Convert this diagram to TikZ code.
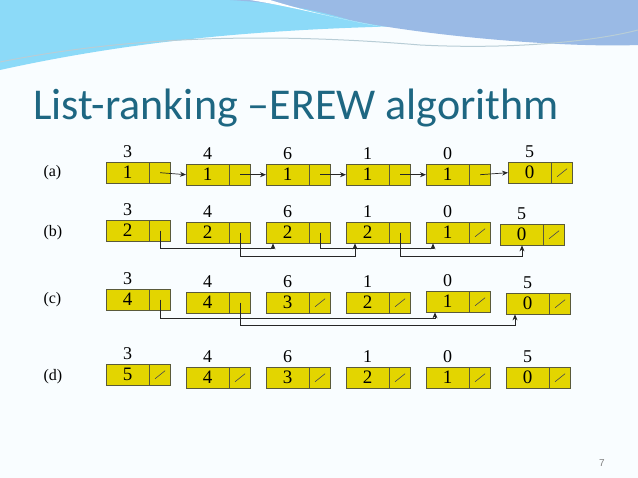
\documentclass[tikz,border=0pt]{standalone}
\usepackage{fontspec}
\setmainfont{Liberation Serif}
\newfontfamily\titlefont{Carlito}
\newfontfamily\sansf{Liberation Sans}
\usetikzlibrary{calc,arrows.meta}
\definecolor{titleblue}{HTML}{1E6782}
\definecolor{boxyellow}{HTML}{E3D500}
\definecolor{boxline}{HTML}{5A5A3A}
\tikzset{
  vcell/.style={draw=boxline,fill=boxyellow,minimum width=43pt,minimum height=21pt,inner sep=0pt,anchor=north west,font=\fontsize{19}{19}\selectfont},
  pcell/.style={draw=boxline,fill=boxyellow,minimum width=21pt,minimum height=21pt,inner sep=0pt,anchor=north west},
  lab/.style={font=\fontsize{18}{18}\selectfont,anchor=base},
  rowlab/.style={font=\fontsize{16}{16}\selectfont,anchor=west},
  arr/.style={draw=black!85,line width=0.7pt,-{Stealth[length=6pt,width=5pt]}},
  nullline/.style={draw=black!70,line width=0.6pt}
}
\newcommand\lbox[5]{%
  \node[vcell] (#1v) at (#2,#3) {#4};
  \node[pcell] (#1p) at (#1v.north east) {};
  \node[lab] (#1l) at ($(#1v.north)+(0,-4)$) {#5};
}
\newcommand\nul[1]{\draw[nullline] ($(#1p.center)+(-5,4)$) -- ($(#1p.center)+(5,-4)$);}
\begin{document}
\begin{tikzpicture}[x=1pt,y=-1pt]
\useasboundingbox (0,0) rectangle (638,478);
\fill[white!94!cyan!40] (0,0) rectangle (638,478);
% header waves
\fill[cyan!45!white] (0,0) -- (638,0) -- (638,20) .. controls (450,30) and (250,15) .. (0,70) -- cycle;
\fill[cyan!55!blue!40!white] (230,0) -- (638,0) -- (638,45) .. controls (560,48) and (420,35) .. (350,20) .. controls (300,5) and (260,2) .. (230,0) -- cycle;
\fill[white] (250,0) .. controls (300,8) and (340,20) .. (400,30) .. controls (330,18) and (290,6) .. (270,0) -- cycle;
\draw[cyan!30!gray!50,line width=1pt] (0,62) .. controls (150,32) and (300,35) .. (420,45) .. controls (520,50) and (600,40) .. (638,30);
% title
\node[anchor=base west,text=titleblue,font=\titlefont\fontsize{44}{44}\selectfont,inner sep=0pt] (title) at (33,120) {List-ranking –EREW algorithm};
% row labels
\node[rowlab] (ra) at (40,173) {(a)};
\node[rowlab] (rb) at (40,233) {(b)};
\node[rowlab] (rc) at (40,300) {(c)};
\node[rowlab] (rd) at (40,377) {(d)};
% row a
\lbox{a1}{106}{162}{1}{3}
\lbox{a2}{186}{164}{1}{4}
\lbox{a3}{266}{164}{1}{6}
\lbox{a4}{346}{164}{1}{1}
\lbox{a5}{426}{164}{1}{0}
\lbox{a6}{508}{162}{0}{5}\nul{a6}
\draw[arr] (a1p.center) -- (a2v.west);
\draw[arr] (a2p.center) -- (a3v.west);
\draw[arr] (a3p.center) -- (a4v.west);
\draw[arr] (a4p.center) -- (a5v.west);
\draw[arr] (a5p.center) -- (a6v.west);
% row b
\lbox{b1}{106}{220}{2}{3}
\lbox{b2}{186}{222}{2}{4}
\lbox{b3}{266}{222}{2}{6}
\lbox{b4}{346}{222}{2}{1}
\lbox{b5}{426}{222}{1}{0}\nul{b5}
\lbox{b6}{500}{224}{0}{5}\nul{b6}
\draw[arr] (b1p.center) -- (b1p.center|-0,248) -| ([xshift=7pt]b3v.south west);
\draw[arr] (b2p.center) -- (b2p.center|-0,256) -| ([xshift=9pt]b4v.south west);
\draw[arr] (b3p.center) -- (b3p.center|-0,248) -| ([xshift=7pt]b5v.south west);
\draw[arr] (b4p.center) -- (b4p.center|-0,256) -| ([xshift=22pt]b6v.south west);
% row c
\lbox{c1}{106}{289}{4}{3}
\lbox{c2}{186}{292}{4}{4}
\lbox{c3}{266}{292}{3}{6}\nul{c3}
\lbox{c4}{346}{292}{2}{1}\nul{c4}
\lbox{c5}{426}{291}{1}{0}\nul{c5}
\lbox{c6}{506}{293}{0}{5}\nul{c6}
\draw[arr] (c1p.center) -- (c1p.center|-0,318) -| ([xshift=9pt]c5v.south west);
\draw[arr] (c2p.center) -- (c2p.center|-0,325) -| ([xshift=9pt]c6v.south west);
% row d
\lbox{d1}{106}{364}{5}{3}\nul{d1}
\lbox{d2}{186}{367}{4}{4}\nul{d2}
\lbox{d3}{266}{367}{3}{6}\nul{d3}
\lbox{d4}{346}{367}{2}{1}\nul{d4}
\lbox{d5}{426}{367}{1}{0}\nul{d5}
\lbox{d6}{506}{367}{0}{5}\nul{d6}
\node[font=\sansf\fontsize{10}{10}\selectfont,text=gray] (pg) at (602,463) {7};
\end{tikzpicture}
\end{document}
